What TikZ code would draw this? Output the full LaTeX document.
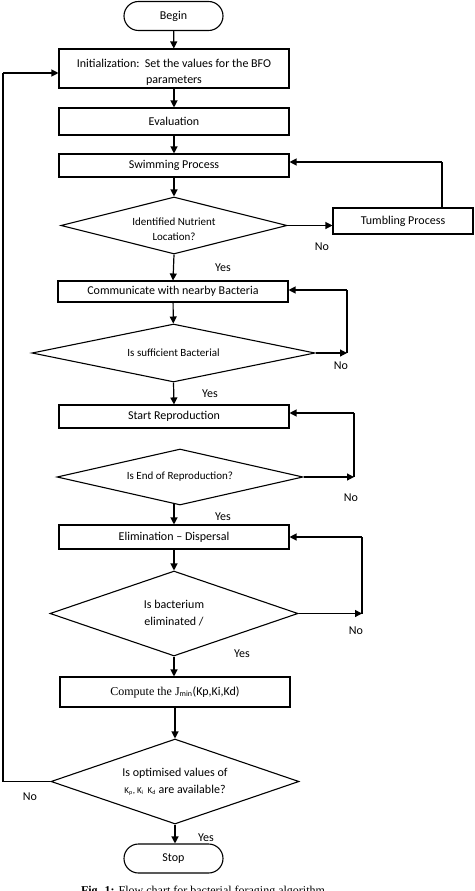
\documentclass[tikz,border=0pt]{standalone}
\usepackage{fontspec}
\setmainfont{Carlito}
\newfontfamily\seriffont{Liberation Serif}
\usetikzlibrary{shapes.geometric,arrows.meta}
\tikzset{
  every node/.style={font=\fontsize{12}{14}\selectfont},
  procbox/.style={draw, line width=1.1pt, minimum width=230pt, inner sep=0pt, align=center},
  termbox/.style={draw, line width=1.1pt, rounded corners=14.5pt, minimum width=99pt, minimum height=29pt, inner sep=0pt},
  decbox/.style={draw, diamond, line width=1.1pt, inner sep=0pt, align=center, font=\fontsize{11}{15}\selectfont},
  flow/.style={line width=1.2pt, -{Triangle[length=7pt,width=7pt]}},
  plainline/.style={line width=1.2pt},
  lbl/.style={font=\fontsize{12}{14}\selectfont, inner sep=0pt}
}
\begin{document}
\begin{tikzpicture}[x=1pt,y=-1pt]
\useasboundingbox (0,0) rectangle (474,891);
% nodes
\node[termbox] (begin) at (173.5,16) {Begin};
\node[procbox, minimum height=39pt] (init) at (174,68.5) {\rule{0pt}{16pt}Initialization:\ \ Set the values for the BFO\\[2pt]parameters};
\node[procbox, minimum height=27pt] (eval) at (174,121.5) {Evaluation};
\node[procbox, minimum height=23pt] (swim) at (174,165.5) {Swimming Process};
\node[decbox, aspect=3.96, minimum width=226pt, minimum height=57pt] (d1) at (174,225.5) {\rule{0pt}{15pt}Identified Nutrient\\Location?};
\node[procbox, minimum width=140pt, minimum height=26pt] (tumb) at (403,221) {Tumbling Process};
\node[procbox, minimum height=21pt] (comm) at (173,291.5) {Communicate with nearby Bacteria};
\node[decbox, aspect=4.88, minimum width=283pt, minimum height=58pt] (d2) at (173.5,353) {Is sufficient Bacterial};
\node[procbox, minimum height=23pt] (repro) at (174,416.5) {Start Reproduction};
\node[decbox, aspect=4.39, minimum width=246pt, minimum height=56pt] (d3) at (180,477) {Is End of Reproduction?};
\node[procbox, minimum height=24pt] (elim) at (174,537) {Elimination -- Dispersal};
\node[decbox, aspect=2.92, minimum width=248pt, minimum height=85pt, font=\fontsize{12}{17}\selectfont] (d4) at (174,613.5) {Is bacterium\\eliminated /};
\node[procbox, minimum height=30pt] (comp) at (175,692) {{\seriffont Compute the J}\textsubscript{min}(Kp,Ki,Kd)};
\node[decbox, aspect=2.92, minimum width=248pt, minimum height=85pt, font=\fontsize{12}{17}\selectfont] (d5) at (175,781.5) {Is optimised values of\\{\fontsize{9}{10}\selectfont K\textsubscript{p}, K\textsubscript{i}\ \ K\textsubscript{d}} are available?};
\node[termbox] (stop) at (173.5,858.5) {Stop};
% coordinates for loops
\coordinate (t1) at (442,162);
\coordinate (c2) at (347,353);
\coordinate (c2t) at (347,290);
\coordinate (c3) at (354,477);
\coordinate (c3t) at (354,413);
\coordinate (c4) at (362,613.5);
\coordinate (c4t) at (362,537);
\coordinate (c5) at (3,781.5);
\coordinate (c5t) at (3,73);
\coordinate (d3out) at (174,503);
% main flow
\draw[flow] (begin) -- (init);
\draw[flow] (init) -- (eval);
\draw[flow] (eval) -- (swim);
\draw[flow] (swim) -- (d1);
\draw[flow] (d1.south) -- (comm.north);
\draw[flow] (comm) -- (d2);
\draw[flow] (d2.south) -- (repro.north);
\draw[flow] (d3out) -- (elim.north -| d3out);
\draw[flow] (elim) -- (d4);
\draw[flow] (d4.south) -- (comp.north -| d4.south);
\draw[flow] (comp) -- (d5);
\draw[flow] (d5.south) -- (stop.north -| d5.south);
% branches
\draw[flow] (d1.east) -- (d1.east -| tumb.west);
\draw[plainline] (tumb.north -| t1) -- (t1);
\draw[flow] (t1) -- (t1 -| swim.east);
\draw[flow] (d2.east) -- (c2);
\draw[plainline] (c2) -- (c2t);
\draw[flow] (c2t) -- (c2t -| comm.east);
\draw[flow] (d3.east) -- (c3);
\draw[plainline] (c3) -- (c3t);
\draw[flow] (c3t) -- (c3t -| repro.east);
\draw[flow] (d4.east) -- (c4);
\draw[plainline] (c4) -- (c4t);
\draw[flow] (c4t) -- (c4t -| elim.east);
\draw[plainline] (d5.west) -- (c5) -- (c5t);
\draw[flow] (c5t) -- (c5t -| init.west);
% labels
\node[lbl] (no1) at (322,247) {No};
\node[lbl] (yes1) at (223,268) {Yes};
\node[lbl] (no2) at (341,366) {No};
\node[lbl] (yes2) at (210,394) {Yes};
\node[lbl] (no3) at (351,498) {No};
\node[lbl] (yes3) at (223,517) {Yes};
\node[lbl] (no4) at (356,631) {No};
\node[lbl] (yes4) at (242,654) {Yes};
\node[lbl] (no5) at (30,797) {No};
\node[lbl] (yes5) at (206,838) {Yes};
\node[font=\seriffont\fontsize{12}{14}\selectfont, anchor=base, inner sep=0pt] (cap) at (203,894) {\textbf{Fig. 1:} Flow chart for bacterial foraging algorithm};
\end{tikzpicture}
\end{document}
